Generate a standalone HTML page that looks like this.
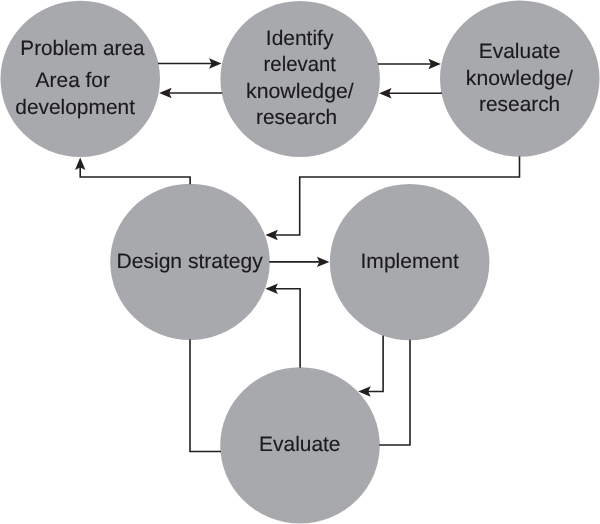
<!DOCTYPE html>
<html><head><meta charset="utf-8"><style>html,body{margin:0;padding:0;background:#fff;width:600px;height:524px;overflow:hidden}svg{display:block;will-change:transform}</style></head><body>
<svg xmlns="http://www.w3.org/2000/svg" width="600" height="524" viewBox="0 0 600 524">
<rect width="600" height="524" fill="#fff"/>
<g fill="#a7a9ac">
<ellipse cx="80.25" cy="78.85" rx="79.75" ry="78.05"/>
<ellipse cx="300.15" cy="79.0" rx="79.75" ry="78.05"/>
<ellipse cx="519.75" cy="78.6" rx="79.75" ry="78.05"/>
<ellipse cx="190" cy="261.9" rx="79.75" ry="78.05"/>
<ellipse cx="409.65" cy="262.15" rx="79.75" ry="78.05"/>
<ellipse cx="300" cy="445.35" rx="79.75" ry="78.05"/>
</g>
<g fill="none" stroke="#231f20" stroke-width="1.6" stroke-linejoin="miter" stroke-linecap="butt">
<path d="M157.94,63.5 H211.99"/>
<path d="M222.19,93.0 H168.68"/>
<path d="M377.91,64.0 H431.41"/>
<path d="M441.91,93.2 H388.57"/>
<path d="M519.5,156.15 V177.0 H299.7 V235.0 H274.86"/>
<path d="M190.1,184.35 V177.0 H80.2 V166.90"/>
<path d="M269.25,261.9 H319.90"/>
<path d="M300.1,367.80 V288.7 H274.90"/>
<path d="M383.1,335.42 V391.5 H367.73"/>
<path d="M190.0,339.45 V451.5 H221.00"/>
<path d="M379.25,445.0 H410 V339.70"/>
</g>
<g fill="#231f20">
<path d="M221.49,63.50 L208.99,58.30 L211.49,63.50 L208.99,68.70 Z"/>
<path d="M159.18,93.00 L171.68,87.80 L169.18,93.00 L171.68,98.20 Z"/>
<path d="M440.91,64.00 L428.41,58.80 L430.91,64.00 L428.41,69.20 Z"/>
<path d="M379.07,93.20 L391.57,88.00 L389.07,93.20 L391.57,98.40 Z"/>
<path d="M265.36,235.00 L277.86,229.80 L275.36,235.00 L277.86,240.20 Z"/>
<path d="M80.20,157.40 L75.00,169.90 L80.20,167.40 L85.40,169.90 Z"/>
<path d="M329.40,261.90 L316.90,256.70 L319.40,261.90 L316.90,267.10 Z"/>
<path d="M265.40,288.70 L277.90,283.50 L275.40,288.70 L277.90,293.90 Z"/>
<path d="M358.23,391.50 L370.73,386.30 L368.23,391.50 L370.73,396.70 Z"/>
</g>
<g font-family="Liberation Sans, sans-serif" font-size="21" fill="#1a1a1a" stroke="#1a1a1a" stroke-width="0.12" text-rendering="geometricPrecision">
<text transform="translate(20.33,55.00) scale(0.9851,1.0)">Problem area</text>
<text transform="translate(35.60,87.30) scale(0.9953,1.0)">Area for</text>
<text transform="translate(15.30,114.10) scale(0.9950,1.0)">development</text>
<text transform="translate(265.80,44.60) scale(0.9985,1.0)">Identify</text>
<text transform="translate(263.59,70.80) scale(0.9679,1.0)">relevant</text>
<text transform="translate(246.03,97.55) scale(1.0138,1.0)">knowledge/</text>
<text transform="translate(256.06,124.10) scale(0.9930,1.0)">research</text>
<text transform="translate(478.75,58.00) scale(0.9981,1.0)">Evaluate</text>
<text transform="translate(465.79,84.55) scale(1.0086,1.0)">knowledge/</text>
<text transform="translate(479.06,111.10) scale(0.9930,1.0)">research</text>
<text transform="translate(116.50,267.80) scale(1.0028,1.0)">Design strategy</text>
<text transform="translate(360.50,268.10) scale(1.0021,1.0)">Implement</text>
<text transform="translate(259.11,451.20) scale(0.9956,1.0)">Evaluate</text>
</g></svg>
</body></html>
